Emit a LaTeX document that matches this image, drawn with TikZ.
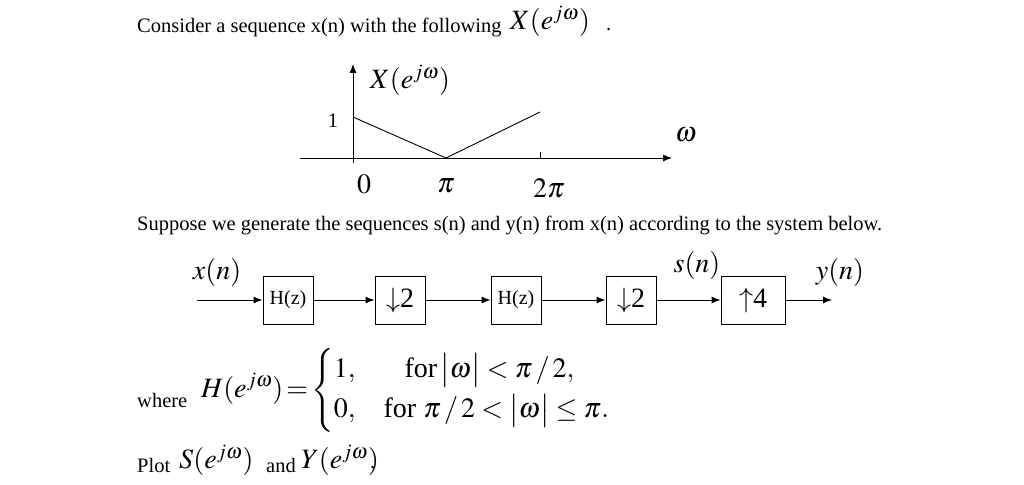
\documentclass[tikz,border=0pt]{standalone}
\usepackage{amsmath}
\usepackage{mathptmx}
\usepackage{fontspec}
\setmainfont{Liberation Serif}
\usetikzlibrary{arrows.meta}
\begin{document}
\begin{tikzpicture}[x=1pt,y=-1pt,
  txt/.style={inner sep=0pt,font=\fontsize{20.5}{24}\selectfont},
  big/.style={inner sep=0pt,font=\fontsize{28}{32}\selectfont},
  blk/.style={draw,line width=0.9pt,minimum width=50pt,minimum height=48pt,inner sep=0pt,font=\fontsize{20}{24}\selectfont},
  blkb/.style={blk,font=\fontsize{28}{32}\selectfont},
  arr/.style={-{Latex[length=9pt,width=7pt]},line width=0.9pt}]
\useasboundingbox (0,0) rectangle (1024,484);
% line 1
\node[txt,anchor=west] (l1) at (137,27) {Consider a sequence x(n) with the following};
\node[big,anchor=west] (X1) at (510,21) {$X(e^{j\omega})$};
\node[txt,anchor=west] (p1) at (606,30) {.};
% plot
\coordinate (xa) at (300,158);
\coordinate (xb) at (672,158);
\coordinate (ya) at (353,163);
\coordinate (yb) at (353,64);
\draw[arr] (xa) -- (xb);
\draw[arr] (ya) -- (yb);
\coordinate (p0) at (353,117);
\coordinate (ppi) at (446,158);
\coordinate (p2) at (540,112);
\draw[line width=0.9pt] (p0) -- (ppi) -- (p2);
\coordinate (t1) at (540,152);
\coordinate (t2) at (540,158);
\draw[line width=0.9pt] (t1) -- (t2);
\node[txt] (one) at (333,121) {1};
\node[big] (Xl) at (410,80) {$X(e^{j\omega})$};
\node[big] (w) at (686,135) {$\omega$};
\node[big] (z0) at (364,184) {$0$};
\node[big] (zpi) at (446,186) {$\pi$};
\node[big] (z2) at (549,188) {$2\pi$};
% line 2
\node[txt,anchor=west] (l2) at (137,225) {Suppose we generate the sequences s(n) and y(n) from x(n) according to the system below.};
% block diagram
\node[blk] (b1) at (288,300) {H(z)};
\node[blkb] (b2) at (400,300) {$\downarrow$2};
\node[blk] (b3) at (516,300) {H(z)};
\node[blkb] (b4) at (631,300) {$\downarrow$2};
\node[blkb,minimum width=64pt] (b5) at (753,300) {$\uparrow$4};
\coordinate (in) at (197,300);
\coordinate (out) at (832,300);
\draw[arr] (in) -- (b1);
\draw[arr] (b1) -- (b2);
\draw[arr] (b2) -- (b3);
\draw[arr] (b3) -- (b4);
\draw[arr] (b4) -- (b5);
\draw[arr] (b5) -- (out);
\node[big] (xn) at (217,272) {$x(n)$};
\node[big] (sn) at (697,265) {$s(n)$};
\node[big] (yn) at (840,272) {$y(n)$};
% where
\node[txt,anchor=west] (wh) at (137,400) {where};
\node[big,anchor=west] (Hd) at (201,390) {$H(e^{j\omega})\!=\!\begin{cases}1, & \ \ \ \text{for}\,\bigl|\omega\bigr|<\pi\,/\,2,\\[2pt] 0, & \text{for}\ \pi\,/\,2<\bigl|\omega\bigr|\le\pi.\end{cases}$};
% plot line
\node[txt,anchor=west] (pl) at (137,465) {Plot};
\node[big,anchor=west] (S) at (179,460) {$S(e^{j\omega})$};
\node[txt,anchor=west] (and) at (266,465) {and};
\node[big,anchor=west] (Y) at (301,460) {$Y(e^{j\omega})$};
\node[txt,anchor=west] (p2t) at (370,468) {.};
\end{tikzpicture}
\end{document}
